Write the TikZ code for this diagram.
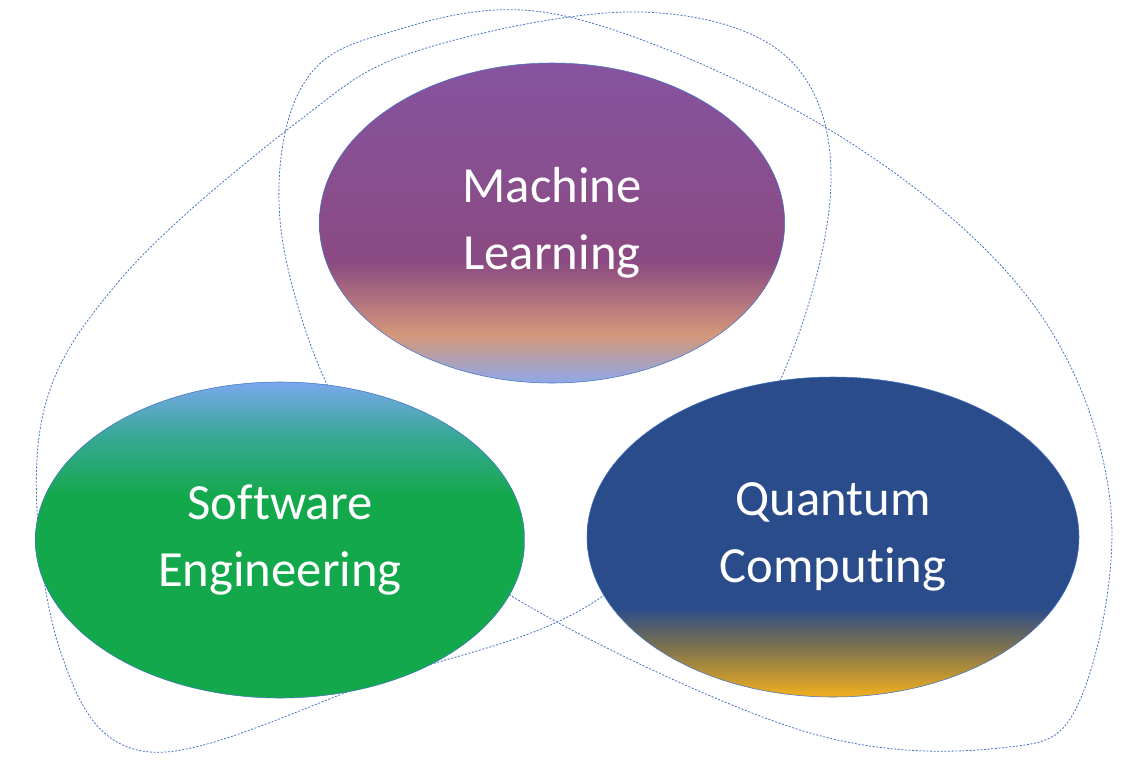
\documentclass[tikz,border=0pt]{standalone}
\usepackage{fontspec}
\setmainfont{Carlito}[Ligatures=NoCommon]
\usetikzlibrary{shapes.geometric}
\definecolor{mlb}{HTML}{8FA8E8}
\definecolor{mlp}{HTML}{D4977A}
\definecolor{mlm}{HTML}{8A4A82}
\definecolor{mlt}{HTML}{8654A0}
\definecolor{seg}{HTML}{14A84C}
\definecolor{set}{HTML}{3AA89A}
\definecolor{seb}{HTML}{7AA8EE}
\definecolor{qco}{HTML}{F2B01E}
\definecolor{qcm}{HTML}{7A7050}
\definecolor{qcb}{HTML}{2A4C8A}
\definecolor{loopc}{HTML}{4472C4}
\pgfdeclareverticalshading{mlshade}{100bp}{color(0bp)=(mlb); color(25bp)=(mlb); color(32.5bp)=(mlp); color(44bp)=(mlm); color(75bp)=(mlt); color(100bp)=(mlt)}
\pgfdeclareverticalshading{seshade}{100bp}{color(0bp)=(seg); color(57bp)=(seg); color(67bp)=(set); color(75bp)=(seb); color(100bp)=(seb)}
\pgfdeclareverticalshading{qcshade}{100bp}{color(0bp)=(qco); color(25bp)=(qco); color(33bp)=(qcm); color(39bp)=(qcb); color(100bp)=(qcb)}
\begin{document}
\begin{tikzpicture}[x=0.75pt,y=-0.75pt,
  ell/.style={ellipse, draw=loopc, line width=0.4pt, inner sep=0pt, text=white,
    font=\fontsize{38}{50}\selectfont, align=center},
  loop/.style={draw=loopc, line width=0.6pt, dash pattern=on 1.5pt off 1.2pt}]
\useasboundingbox (0,0) rectangle (1125,768);
\draw[loop] plot[smooth cycle, tension=0.6] coordinates {(640,12) (420,50) (300,120) (120,280) (40,430) (60,650) (150,752) (380,680) (600,598) (760,420) (830,200) (790,60)};
\draw[loop] plot[smooth cycle, tension=0.6] coordinates {(325,380) (280,220) (300,90) (380,35) (560,15) (830,130) (1030,300) (1110,500) (1080,700) (1000,748) (800,730) (510,595) (400,480)};
\node[ell, shading=mlshade, minimum width=349pt, minimum height=240pt] (ml) at (552,223) {Machine\\Learning};
\node[ell, shading=seshade, minimum width=367pt, minimum height=237pt] (se) at (280,540) {Software\\Engineering};
\node[ell, shading=qcshade, minimum width=369pt, minimum height=240pt] (qc) at (833,537) {Quantum\\Computing};
\end{tikzpicture}
\end{document}
